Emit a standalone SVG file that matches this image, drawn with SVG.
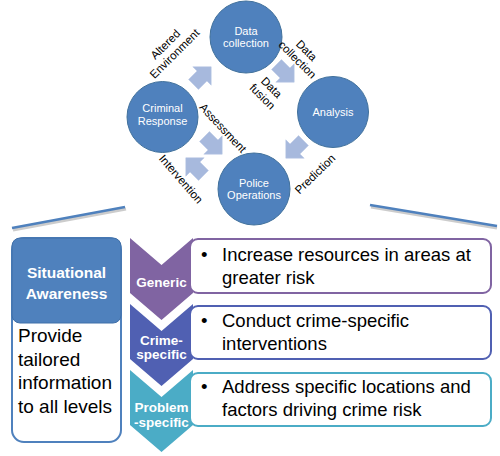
<svg xmlns="http://www.w3.org/2000/svg" width="500" height="456" viewBox="0 0 500 456">
<style>
.circ{fill:#4F81BD;stroke:#41719C;stroke-width:1}
.ct{font-family:"Liberation Sans",Arial,sans-serif;font-size:11px;fill:#fff;text-anchor:middle}
.lbl{font-family:"Liberation Sans",Arial,sans-serif;font-size:11.5px;fill:#000;text-anchor:middle}
.arr{fill:#A7B9DD;stroke:#B4C4E2;stroke-width:0.5}
.chev{font-family:"Liberation Sans",Arial,sans-serif;font-size:13.5px;font-weight:bold;fill:#fff;text-anchor:middle}
.bt{font-family:"Liberation Sans",Arial,sans-serif;font-size:18.5px;fill:#000}
.sa{font-family:"Liberation Sans",Arial,sans-serif;font-size:15.5px;font-weight:bold;fill:#fff;text-anchor:middle}
.body{font-family:"Liberation Sans",Arial,sans-serif;font-size:19px;fill:#000}
</style>
<defs>
<path id="ar" d="M-12,-7 L0,-7 L0,-13 L13,0 L0,13 L0,7 L-12,7 Z"/>
</defs>

<g id="connectors">
<use href="#ar" class="arr" transform="translate(202,76) rotate(-45)"/>
<use href="#ar" class="arr" transform="translate(285,73) rotate(45)"/>
<use href="#ar" class="arr" transform="translate(295,149) rotate(135)"/>
<use href="#ar" class="arr" transform="translate(213,145) rotate(45)"/>
<use href="#ar" class="arr" transform="translate(195,167) rotate(-135)"/>
</g>

<g id="node-data-collection">
<circle class="circ" cx="246" cy="37" r="36"/>
<text class="ct" x="246" y="34.5">Data</text>
<text class="ct" x="246" y="46.5">collection</text>
</g>
<g id="node-analysis">
<circle class="circ" cx="333" cy="112" r="35.5"/>
<text class="ct" x="333" y="115.5">Analysis</text>
</g>
<g id="node-criminal-response">
<circle class="circ" cx="162.5" cy="117" r="35.5"/>
<text class="ct" x="162.5" y="112">Criminal</text>
<text class="ct" x="162.5" y="124.5">Response</text>
</g>
<g id="node-police-operations">
<circle class="circ" cx="254" cy="189" r="36"/>
<text class="ct" x="254" y="186.5">Police</text>
<text class="ct" x="254" y="199">Operations</text>
</g>

<g id="labels">
<g transform="translate(170,49) rotate(-45)">
<text class="lbl" x="0" y="-2.5">Altered</text>
<text class="lbl" x="0" y="10.5">Environment</text>
</g>
<g transform="translate(302,55) rotate(45)">
<text class="lbl" x="0" y="-2.5">Data</text>
<text class="lbl" x="0" y="10.5">collection</text>
</g>
<g transform="translate(267,92) rotate(45)">
<text class="lbl" x="0" y="-2.5">Data</text>
<text class="lbl" x="0" y="10.5">fusion</text>
</g>
<text class="lbl" transform="translate(223,128) rotate(47)" x="0" y="4">Assessment</text>
<text class="lbl" transform="translate(181,179) rotate(49)" x="0" y="4">Intervention</text>
<text class="lbl" transform="translate(315,174) rotate(-44)" x="0" y="4">Prediction</text>
</g>

<g id="zoom-lines">
<line x1="13" y1="230" x2="126" y2="209" stroke="#9a9a9a" stroke-width="3" opacity="0.5"/>
<line x1="12" y1="228" x2="125" y2="207" stroke="#4F81BD" stroke-width="2.5"/>
<line x1="371" y1="207" x2="497" y2="228" stroke="#9a9a9a" stroke-width="3" opacity="0.5"/>
<line x1="370" y1="205" x2="497" y2="226" stroke="#4F81BD" stroke-width="2.5"/>
</g>

<g id="node-situational-awareness">
<rect x="12" y="238" width="109" height="204" rx="12" fill="#fff" stroke="#4F81BD" stroke-width="2"/>
<rect x="12" y="238" width="109" height="85" rx="8" fill="#4F81BD" stroke="#3F6FA8" stroke-width="1"/>
<text class="sa" x="66.5" y="277.5">Situational</text>
<text class="sa" x="66.5" y="298.5">Awareness</text>
<text class="body" x="18" y="342">Provide</text>
<text class="body" x="18" y="365.5">tailored</text>
<text class="body" x="18" y="389">information</text>
<text class="body" x="18" y="412.5">to all levels</text>
</g>

<g id="node-generic">
<path d="M130,238 L161.5,265 L193,238 L193,293 L161.5,320 L130,293 Z" fill="#8064A2"/>
<rect x="190" y="239" width="301" height="54" rx="8" fill="#fff" stroke="#8064A2" stroke-width="2"/>
<text class="chev" x="161.5" y="286.5">Generic</text>
<text class="bt" x="201" y="261">•</text>
<text class="bt" x="222" y="261">Increase resources in areas at</text>
<text class="bt" x="222" y="284">greater risk</text>
</g>

<g id="node-crime-specific">
<path d="M130,304 L161.5,331 L193,304 L193,359 L161.5,386 L130,359 Z" fill="#5060B2"/>
<rect x="190" y="306" width="301" height="53" rx="8" fill="#fff" stroke="#5060B2" stroke-width="2"/>
<text class="chev" x="161.5" y="344.5">Crime-</text>
<text class="chev" x="161.5" y="359">specific</text>
<text class="bt" x="201" y="327">•</text>
<text class="bt" x="222" y="327">Conduct crime-specific</text>
<text class="bt" x="222" y="350">interventions</text>
</g>

<g id="node-problem-specific">
<path d="M130,370 L161.5,397 L193,370 L193,425 L161.5,452 L130,425 Z" fill="#4BACC6"/>
<rect x="190" y="373" width="301" height="53" rx="8" fill="#fff" stroke="#4BACC6" stroke-width="2"/>
<text class="chev" x="161.5" y="411.5">Problem</text>
<text class="chev" x="161.5" y="426.5">-specific</text>
<text class="bt" x="201" y="393">•</text>
<text class="bt" x="222" y="393">Address specific locations and</text>
<text class="bt" x="222" y="416">factors driving crime risk</text>
</g>
</svg>
